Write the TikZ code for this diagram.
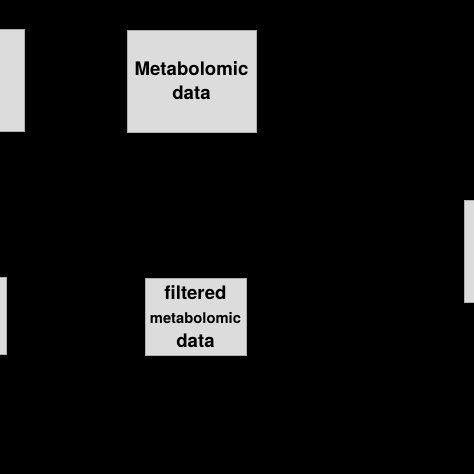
\documentclass[tikz,border=0pt]{standalone}
\usepackage{fontspec}
\setmainfont{TeX Gyre Heros}
\usetikzlibrary{calc, positioning}
\definecolor{boxgray}{RGB}{220,220,220}
\tikzset{
    box/.style = {rectangle, fill=boxgray, draw=boxgray!80!black, line width=0.4pt, align=center, inner sep=0pt, font=\bfseries\fontsize{10.6}{12.5}\selectfont}
}
\begin{document}
\begin{tikzpicture}

        %background

        \fill[black] (0,0) rectangle (9.48,9.48);
        \useasboundingbox (0,0) rectangle (9.48,9.48);
        \clip (0,0) rectangle (9.48,9.48);

        %nodes

        \node(metab)[box, minimum width=2.58cm, minimum height=2.04cm] at (3.83,7.86) {Metabolomic\\[1pt]data};
        \node(filt)[box, minimum width=2.02cm, minimum height=1.54cm] at (3.91,3.15) {filtered\\[1pt]{\fontsize{8.4}{10}\selectfont metabolomic}\\[1pt]data};
        \node(lefttop)[box, minimum width=2.58cm, minimum height=2.04cm, anchor=east] at (0.50,7.88) {};
        \node(leftbot)[box, minimum width=2.02cm, minimum height=1.54cm, anchor=east] at (0.14,3.17) {};
        \node(right)[box, minimum width=2.58cm, minimum height=2.04cm, anchor=west] at (9.28,4.46) {};

    \end{tikzpicture}
\end{document}
